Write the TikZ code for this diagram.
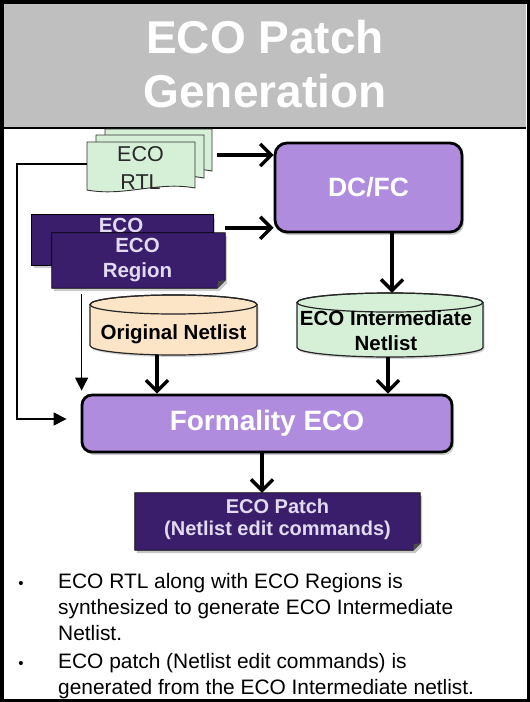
\documentclass[tikz,border=0pt]{standalone}
\usepackage{fontspec}
\setmainfont{Liberation Sans}
\usetikzlibrary{arrows.meta,shadows}
\definecolor{titlegray}{RGB}{191,191,191}
\definecolor{lav}{RGB}{176,140,222}
\definecolor{dpurple}{RGB}{58,30,108}
\definecolor{lgreen}{RGB}{214,240,216}
\definecolor{peach}{RGB}{252,228,198}
\definecolor{lighttext}{RGB}{226,218,240}
\definecolor{doctext}{RGB}{40,40,40}
\newcommand{\fsz}[2]{\fontsize{#1}{#2}\selectfont}
\newcommand{\drawcyl}[6]{%
  \pgfmathsetmacro\cylcx{(#1+#2)/2}%
  \pgfmathsetmacro\cylrx{(#2-#1)/2}%
  \filldraw[fill=#6,draw=black!85,line width=1.2pt,drop shadow={shadow xshift=1.5pt,shadow yshift=-2pt,opacity=.35}]
    (#1,{#3+#5}) -- (#1,{#4-#5}) arc[start angle=180,end angle=0,x radius=\cylrx,y radius=#5]
    -- (#2,{#3+#5}) arc[start angle=0,end angle=-180,x radius=\cylrx,y radius=#5] -- cycle;
  \draw[black!85,line width=1.2pt] (\cylcx,{#3+#5}) ellipse[x radius=\cylrx,y radius=#5];}
\newcommand{\docpage}[4]{%
  \filldraw[fill=lgreen,draw=black!80,line width=0.9pt] (#1,#3) -- (#2,#3) -- (#2,#4)
    .. controls ({#2-0.35*(#2-#1)},{#4-7}) and ({#1+0.35*(#2-#1)},{#4+9}) .. (#1,{#4+2}) -- cycle;}
\begin{document}
\begin{tikzpicture}[x=1pt,y=-1pt,
  bigarrow/.style={line width=3.4pt,-{Straight Barb[length=11pt,width=22pt]}},
  thinarrow/.style={line width=1.1pt,-{Triangle[length=13pt,width=13pt]}},
  procbox/.style={draw=black,line width=2.8pt,fill=lav,rounded corners=12pt,text=white,
    drop shadow={shadow xshift=2pt,shadow yshift=-3pt,opacity=.4}},
  ghost/.style={inner sep=0pt,draw=none},
  darkfill/.style={fill=dpurple,draw=black,line width=0.8pt},
  lbl/.style={inner sep=0pt,align=center,font=\fsz{20.5}{25}\bfseries},
]
\useasboundingbox (0,0) rectangle (530,702);
% title band
\fill[titlegray] (3,3) rectangle (526,128);
\draw[line width=1.6pt] (3,128) -- (526,128);
\draw[line width=3.5pt] (1.75,1.75) rectangle (528.25,700.25);
\node[anchor=base,text=white,font=\fsz{46}{46}\bfseries,inner sep=0pt] (t1) at (265,53) {ECO Patch};
\node[anchor=base,text=white,font=\fsz{46}{46}\bfseries,inner sep=0pt] (t2) at (265,107) {Generation};

% ECO RTL document stack
\docpage{105}{212}{129}{171}
\docpage{96}{204}{135}{178}
\docpage{87}{195}{142}{188}
\node[ghost,minimum width=108pt,minimum height=46pt] (rtl) at (141,164) {};
\node[ghost,minimum width=107pt,minimum height=42pt] (rtlback) at (158.5,150) {};
\node[lbl,font=\fsz{21.5}{28},text=doctext] (rtltext) at (140.5,168) {ECO\\RTL};

% ECO Region stack
\node[ghost,minimum width=181pt,minimum height=50pt] (regback) at (122.5,240) {};
\node[ghost,minimum width=173pt,minimum height=55pt] (regfront) at (138.5,260.5) {};
\filldraw[darkfill,drop shadow={shadow xshift=2pt,shadow yshift=-3pt,opacity=.4}]
  (regback.north west) rectangle (regback.south east);
\node[lbl,text=lighttext,anchor=base] (regbtext) at (121,232) {ECO};
\filldraw[darkfill,drop shadow={shadow xshift=2pt,shadow yshift=-3pt,opacity=.4}]
  (regfront.north west) -- (regfront.north east) -- ([yshift=8pt]regfront.south east)
  -- ([xshift=-8pt]regfront.south east) -- (regfront.south west) -- cycle;
\fill[black!70] ([yshift=8pt]regfront.south east) -- ([xshift=-8pt]regfront.south east) -- ([xshift=-7pt,yshift=7pt]regfront.south east) -- cycle;
\node[lbl,text=lighttext] (regftext) at (137.5,260.5) {ECO\\Region};

% DC/FC
\node[procbox,minimum width=187pt,minimum height=89pt,font=\fsz{26.5}{30}\bfseries] (dcfc) at (368.5,187.5) {DC/FC};

% cylinders
\drawcyl{90}{257}{295}{355}{9.5}{peach}
\node[ghost,minimum width=167pt,minimum height=60pt] (orig) at (173.5,325) {};
\node[lbl,anchor=base] (origtext) at (173.5,339) {Original Netlist};
\drawcyl{297}{483}{293}{357}{9.5}{lgreen}
\node[ghost,minimum width=186pt,minimum height=64pt] (inter) at (390,325) {};
\node[lbl] (intertext) at (386,331) {ECO Intermediate\\Netlist};

% Formality ECO
\node[procbox,rounded corners=10pt,minimum width=370pt,minimum height=57pt,font=\fsz{28}{30}\bfseries] (fe) at (267,423.5) {Formality ECO};

% ECO Patch
\node[ghost,minimum width=285pt,minimum height=57pt] (patch) at (277.5,521.5) {};
\filldraw[darkfill,drop shadow={shadow xshift=2pt,shadow yshift=-3pt,opacity=.45}]
  (patch.north west) -- (patch.north east) -- ([yshift=7pt]patch.south east)
  -- ([xshift=-7pt]patch.south east) -- (patch.south west) -- cycle;
\fill[black!70] ([yshift=7pt]patch.south east) -- ([xshift=-7pt]patch.south east) -- ([xshift=-6pt,yshift=6pt]patch.south east) -- cycle;
\node[lbl,text=lighttext,font=\fsz{20}{22}\bfseries] (patchtext) at (277.5,519) {ECO Patch\\(Netlist edit commands)};

% connectors
\coordinate (lcorner) at (17,0);
\draw[bigarrow] ([xshift=5pt,yshift=-5pt]rtlback.east) -- ([yshift=-5pt]rtlback.east -| dcfc.west);
\draw[bigarrow] ([yshift=5pt]regfront.north east) -- ([yshift=5pt]regfront.north east -| dcfc.west);
\draw[bigarrow] ([xshift=2pt]inter.north |- dcfc.south) -- ([xshift=2pt]inter.north);
\draw[bigarrow] ([xshift=-16.5pt]orig.south) -- ([xshift=-16.5pt]orig.south |- fe.north);
\draw[bigarrow] ([xshift=-2pt]inter.south) -- ([xshift=-2pt]inter.south |- fe.north);
\draw[bigarrow] ([xshift=-5pt]fe.south) -- ([xshift=-5pt]fe.south |- patch.north);
\draw[thinarrow,shorten >=14pt] (rtl.west) -- (rtl.west -| lcorner) |- ([yshift=4.5pt]fe.west);
\draw[thinarrow,shorten >=3pt,shorten <=6pt] ([xshift=1pt]fe.north west |- regfront.south) -- ([xshift=1pt]fe.north west);

% bullets
\node[anchor=base,font=\fsz{15}{15},inner sep=0pt] (d1) at (21,588) {•};
\node[anchor=north west,align=left,inner sep=0pt,font=\fsz{20.9}{26.3}] (b1) at (58,572.8)
  {ECO RTL along with ECO Regions is\\synthesized to generate ECO Intermediate\\Netlist.};
\node[anchor=base,font=\fsz{15}{15},inner sep=0pt] (d2) at (21,668) {•};
\node[anchor=north west,align=left,inner sep=0pt,font=\fsz{20.9}{26.3}] (b2) at (58,652.8)
  {ECO patch (Netlist edit commands) is\\generated from the ECO Intermediate netlist.};
\end{tikzpicture}
\end{document}
